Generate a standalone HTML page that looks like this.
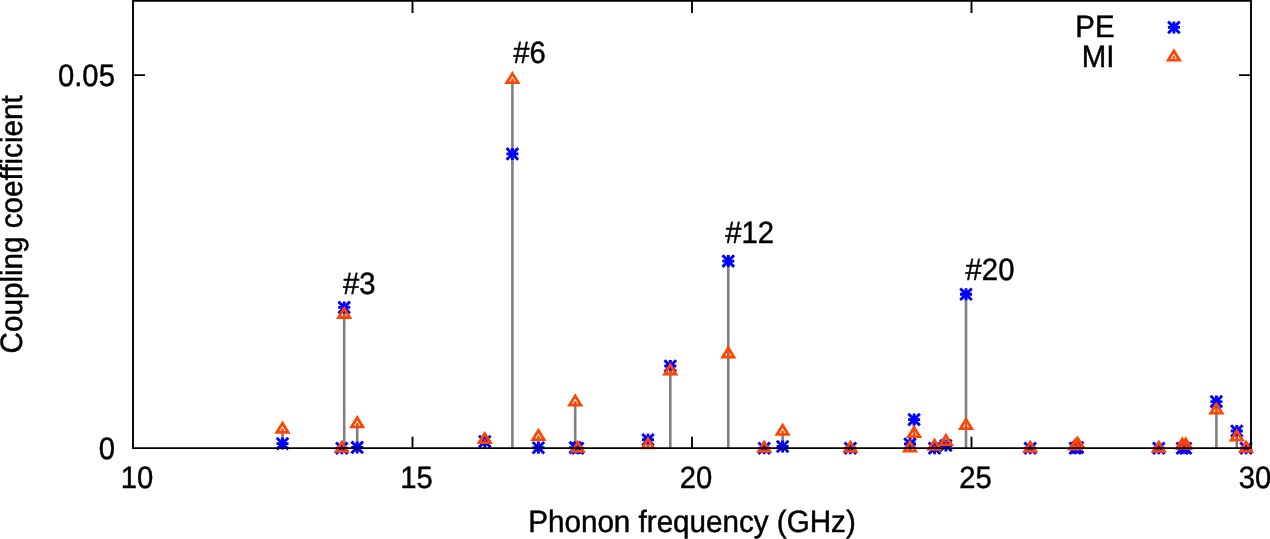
<!DOCTYPE html>
<html><head><meta charset="utf-8"><title>Coupling coefficient vs phonon frequency</title>
<style>
html,body{margin:0;padding:0;background:#fff;overflow:hidden}
svg{display:block}
text{font-family:"Liberation Sans",sans-serif;font-size:30px;fill:#000;stroke:#000;stroke-width:0.45px;text-rendering:geometricPrecision}
</style></head><body>
<svg width="1270" height="539" viewBox="0 0 1270 539">
<rect width="1270" height="539" fill="#fff"/>

<g stroke="#808080" stroke-width="2.6" fill="none">
<path d="M282.50 448.10V429.60"/>
<path d="M344.20 448.10V307.40"/>
<path d="M357.20 448.10V424.00"/>
<path d="M484.80 448.10V439.90"/>
<path d="M512.40 448.10V79.90"/>
<path d="M538.40 448.10V436.80"/>
<path d="M575.20 448.10V402.20"/>
<path d="M648.00 448.10V439.70"/>
<path d="M670.30 448.10V366.00"/>
<path d="M728.30 448.10V261.10"/>
<path d="M782.60 448.10V431.60"/>
<path d="M910.00 448.10V444.00"/>
<path d="M914.10 448.10V419.60"/>
<path d="M934.50 448.10V446.50"/>
<path d="M945.90 448.10V441.80"/>
<path d="M966.00 448.10V294.30"/>
<path d="M1075.20 448.10V446.30"/>
<path d="M1077.60 448.10V444.40"/>
<path d="M1182.30 448.10V445.30"/>
<path d="M1185.70 448.10V445.30"/>
<path d="M1216.40 448.10V401.60"/>
<path d="M1236.80 448.10V431.00"/>
</g>
<g stroke="#0000ff" stroke-width="2.9" fill="none">
<path d="M276.50 443.60H288.50M282.50 437.60V449.60M276.72 437.82L288.28 449.38M276.72 449.38L288.28 437.82"/>
<path d="M335.80 448.20H347.80M341.80 442.20V454.20M336.02 442.42L347.58 453.98M336.02 453.98L347.58 442.42"/>
<path d="M338.20 307.40H350.20M344.20 301.40V313.40M338.42 301.62L349.98 313.18M338.42 313.18L349.98 301.62"/>
<path d="M351.20 447.40H363.20M357.20 441.40V453.40M351.42 441.62L362.98 453.18M351.42 453.18L362.98 441.62"/>
<path d="M478.80 441.50H490.80M484.80 435.50V447.50M479.02 435.72L490.58 447.28M479.02 447.28L490.58 435.72"/>
<path d="M506.40 153.90H518.40M512.40 147.90V159.90M506.62 148.12L518.18 159.68M506.62 159.68L518.18 148.12"/>
<path d="M532.40 447.70H544.40M538.40 441.70V453.70M532.62 441.92L544.18 453.48M532.62 453.48L544.18 441.92"/>
<path d="M569.20 447.60H581.20M575.20 441.60V453.60M569.42 441.82L580.98 453.38M569.42 453.38L580.98 441.82"/>
<path d="M571.80 448.20H583.80M577.80 442.20V454.20M572.02 442.42L583.58 453.98M572.02 453.98L583.58 442.42"/>
<path d="M642.00 439.70H654.00M648.00 433.70V445.70M642.22 433.92L653.78 445.48M642.22 445.48L653.78 433.92"/>
<path d="M664.30 366.00H676.30M670.30 360.00V372.00M664.52 360.22L676.08 371.78M664.52 371.78L676.08 360.22"/>
<path d="M722.30 261.10H734.30M728.30 255.10V267.10M722.52 255.32L734.08 266.88M722.52 266.88L734.08 255.32"/>
<path d="M758.20 448.20H770.20M764.20 442.20V454.20M758.42 442.42L769.98 453.98M758.42 453.98L769.98 442.42"/>
<path d="M776.60 446.50H788.60M782.60 440.50V452.50M776.82 440.72L788.38 452.28M776.82 452.28L788.38 440.72"/>
<path d="M844.40 448.20H856.40M850.40 442.20V454.20M844.62 442.42L856.18 453.98M844.62 453.98L856.18 442.42"/>
<path d="M904.00 444.00H916.00M910.00 438.00V450.00M904.22 438.22L915.78 449.78M904.22 449.78L915.78 438.22"/>
<path d="M908.10 419.60H920.10M914.10 413.60V425.60M908.32 413.82L919.88 425.38M908.32 425.38L919.88 413.82"/>
<path d="M928.50 448.20H940.50M934.50 442.20V454.20M928.72 442.42L940.28 453.98M928.72 453.98L940.28 442.42"/>
<path d="M939.90 445.50H951.90M945.90 439.50V451.50M940.12 439.72L951.68 451.28M940.12 451.28L951.68 439.72"/>
<path d="M960.00 294.30H972.00M966.00 288.30V300.30M960.22 288.52L971.78 300.08M960.22 300.08L971.78 288.52"/>
<path d="M1024.20 448.20H1036.20M1030.20 442.20V454.20M1024.42 442.42L1035.98 453.98M1024.42 453.98L1035.98 442.42"/>
<path d="M1069.20 448.20H1081.20M1075.20 442.20V454.20M1069.42 442.42L1080.98 453.98M1069.42 453.98L1080.98 442.42"/>
<path d="M1071.60 447.50H1083.60M1077.60 441.50V453.50M1071.82 441.72L1083.38 453.28M1071.82 453.28L1083.38 441.72"/>
<path d="M1152.80 448.20H1164.80M1158.80 442.20V454.20M1153.02 442.42L1164.58 453.98M1153.02 453.98L1164.58 442.42"/>
<path d="M1176.30 448.20H1188.30M1182.30 442.20V454.20M1176.52 442.42L1188.08 453.98M1176.52 453.98L1188.08 442.42"/>
<path d="M1179.70 448.20H1191.70M1185.70 442.20V454.20M1179.92 442.42L1191.48 453.98M1179.92 453.98L1191.48 442.42"/>
<path d="M1210.40 401.60H1222.40M1216.40 395.60V407.60M1210.62 395.82L1222.18 407.38M1210.62 407.38L1222.18 395.82"/>
<path d="M1230.80 431.00H1242.80M1236.80 425.00V437.00M1231.02 425.22L1242.58 436.78M1231.02 436.78L1242.58 425.22"/>
<path d="M1240.10 448.20H1252.10M1246.10 442.20V454.20M1240.32 442.42L1251.88 453.98M1240.32 453.98L1251.88 442.42"/>
<path d="M1167.90 27.40H1179.90M1173.90 21.40V33.40M1168.12 21.62L1179.68 33.18M1168.12 33.18L1179.68 21.62"/>
</g>
<g stroke="#ff4500" stroke-width="2.8" fill="none" stroke-linejoin="miter">
<path d="M282.50 423.27L276.86 432.40H288.14Z"/><circle cx="282.50" cy="429.60" r="1.2" fill="#ff4500" stroke="none"/>
<path d="M341.80 442.27L336.16 451.40H347.44Z"/><circle cx="341.80" cy="448.60" r="1.2" fill="#ff4500" stroke="none"/>
<path d="M344.20 308.37L338.56 317.50H349.84Z"/><circle cx="344.20" cy="314.70" r="1.2" fill="#ff4500" stroke="none"/>
<path d="M357.20 417.67L351.56 426.80H362.84Z"/><circle cx="357.20" cy="424.00" r="1.2" fill="#ff4500" stroke="none"/>
<path d="M484.80 433.57L479.16 442.70H490.44Z"/><circle cx="484.80" cy="439.90" r="1.2" fill="#ff4500" stroke="none"/>
<path d="M512.40 73.57L506.76 82.70H518.04Z"/><circle cx="512.40" cy="79.90" r="1.2" fill="#ff4500" stroke="none"/>
<path d="M538.40 430.47L532.76 439.60H544.04Z"/><circle cx="538.40" cy="436.80" r="1.2" fill="#ff4500" stroke="none"/>
<path d="M575.20 395.87L569.56 405.00H580.84Z"/><circle cx="575.20" cy="402.20" r="1.2" fill="#ff4500" stroke="none"/>
<path d="M577.80 442.27L572.16 451.40H583.44Z"/><circle cx="577.80" cy="448.60" r="1.2" fill="#ff4500" stroke="none"/>
<path d="M648.00 438.67L642.36 447.80H653.64Z"/><circle cx="648.00" cy="445.00" r="1.2" fill="#ff4500" stroke="none"/>
<path d="M670.30 364.87L664.66 374.00H675.94Z"/><circle cx="670.30" cy="371.20" r="1.2" fill="#ff4500" stroke="none"/>
<path d="M728.30 347.97L722.66 357.10H733.94Z"/><circle cx="728.30" cy="354.30" r="1.2" fill="#ff4500" stroke="none"/>
<path d="M764.20 442.27L758.56 451.40H769.84Z"/><circle cx="764.20" cy="448.60" r="1.2" fill="#ff4500" stroke="none"/>
<path d="M782.60 425.27L776.96 434.40H788.24Z"/><circle cx="782.60" cy="431.60" r="1.2" fill="#ff4500" stroke="none"/>
<path d="M850.40 442.27L844.76 451.40H856.04Z"/><circle cx="850.40" cy="448.60" r="1.2" fill="#ff4500" stroke="none"/>
<path d="M910.00 442.07L904.36 451.20H915.64Z"/><circle cx="910.00" cy="448.40" r="1.2" fill="#ff4500" stroke="none"/>
<path d="M914.10 427.47L908.46 436.60H919.74Z"/><circle cx="914.10" cy="433.80" r="1.2" fill="#ff4500" stroke="none"/>
<path d="M934.50 440.17L928.86 449.30H940.14Z"/><circle cx="934.50" cy="446.50" r="1.2" fill="#ff4500" stroke="none"/>
<path d="M945.90 435.47L940.26 444.60H951.54Z"/><circle cx="945.90" cy="441.80" r="1.2" fill="#ff4500" stroke="none"/>
<path d="M966.00 419.47L960.36 428.60H971.64Z"/><circle cx="966.00" cy="425.80" r="1.2" fill="#ff4500" stroke="none"/>
<path d="M1030.20 442.27L1024.56 451.40H1035.84Z"/><circle cx="1030.20" cy="448.60" r="1.2" fill="#ff4500" stroke="none"/>
<path d="M1075.20 439.97L1069.56 449.10H1080.84Z"/><circle cx="1075.20" cy="446.30" r="1.2" fill="#ff4500" stroke="none"/>
<path d="M1077.60 438.07L1071.96 447.20H1083.24Z"/><circle cx="1077.60" cy="444.40" r="1.2" fill="#ff4500" stroke="none"/>
<path d="M1158.80 442.27L1153.16 451.40H1164.44Z"/><circle cx="1158.80" cy="448.60" r="1.2" fill="#ff4500" stroke="none"/>
<path d="M1182.30 438.97L1176.66 448.10H1187.94Z"/><circle cx="1182.30" cy="445.30" r="1.2" fill="#ff4500" stroke="none"/>
<path d="M1185.70 438.97L1180.06 448.10H1191.34Z"/><circle cx="1185.70" cy="445.30" r="1.2" fill="#ff4500" stroke="none"/>
<path d="M1216.40 404.07L1210.76 413.20H1222.04Z"/><circle cx="1216.40" cy="410.40" r="1.2" fill="#ff4500" stroke="none"/>
<path d="M1236.80 430.97L1231.16 440.10H1242.44Z"/><circle cx="1236.80" cy="437.30" r="1.2" fill="#ff4500" stroke="none"/>
<path d="M1246.10 442.27L1240.46 451.40H1251.74Z"/><circle cx="1246.10" cy="448.60" r="1.2" fill="#ff4500" stroke="none"/>
<path d="M1173.90 50.97L1168.26 60.10H1179.54Z"/><circle cx="1173.90" cy="57.30" r="1.2" fill="#ff4500" stroke="none"/>
</g>
<g stroke="#000" stroke-width="1.9" fill="none" stroke-linecap="butt">
<path d="M133.0 0.7H1251.0V448.1H133.0Z"/>
<path d="M412.50 448.1v-11.3M412.50 0.7v12.2"/>
<path d="M692.00 448.1v-11.3M692.00 0.7v12.2"/>
<path d="M971.50 448.1v-11.3M971.50 0.7v12.2"/>
<path d="M133.0 75.1h12M1251.0 75.1h-12"/>
</g>
<text transform="translate(114.90 458.80) scale(0.975 1.03)" text-anchor="end">0</text>
<text transform="translate(114.90 85.90) scale(0.975 1.03)" text-anchor="end">0.05</text>
<text transform="translate(136.90 488.45) scale(0.975 1.03)" text-anchor="middle">10</text>
<text transform="translate(416.40 488.45) scale(0.975 1.03)" text-anchor="middle">15</text>
<text transform="translate(695.90 488.45) scale(0.975 1.03)" text-anchor="middle">20</text>
<text transform="translate(975.40 488.45) scale(0.975 1.03)" text-anchor="middle">25</text>
<text transform="translate(1254.90 488.45) scale(0.975 1.03)" text-anchor="middle">30</text>
<text transform="translate(692.00 532.40) scale(0.987 1.03)" text-anchor="middle">Phonon frequency (GHz)</text>
<text transform="translate(22.30 224.40) rotate(-90) scale(0.988 1.03)" text-anchor="middle">Coupling coefficient</text>
<text transform="translate(1114.50 37.30) scale(0.98 1.03)" text-anchor="end">PE</text>
<text transform="translate(1114.50 67.20) scale(0.98 1.03)" text-anchor="end">MI</text>
<text transform="translate(342.90 294.20) scale(0.975 1.03)">#3</text>
<text transform="translate(513.30 63.40) scale(0.975 1.03)">#6</text>
<text transform="translate(725.30 242.80) scale(0.975 1.03)">#12</text>
<text transform="translate(965.60 279.90) scale(0.975 1.03)">#20</text>
</svg></body></html>
